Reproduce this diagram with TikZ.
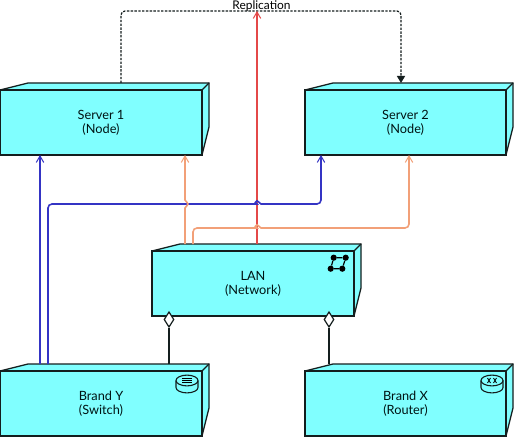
\documentclass[tikz,border=0pt]{standalone}
\usepackage{fontspec}
\setmainfont{Lato}
\usetikzlibrary{arrows.meta,shapes.geometric}
\definecolor{nodecyan}{HTML}{80FFFF}
\definecolor{conblue}{HTML}{3434C4}
\definecolor{conorange}{HTML}{F2A078}
\definecolor{conred}{HTML}{E44848}
\definecolor{outline}{HTML}{141E1E}
\tikzset{
  hull/.style={inner sep=0pt,outer sep=0pt,anchor=north west,minimum width=#1,minimum height=72bp},
  face/.style={draw=outline,line width=1.25bp,line join=miter},
  lbl/.style={align=center,font=\fontsize{12.8}{14.3}\selectfont,text=black!85!teal},
  conn/.style={line width=1.6bp,rounded corners=4bp},
  opentip/.style={-{Straight Barb[length=6.5bp,width=7.5bp,line width=1bp]}},
  diam/.style={diamond,draw=outline,fill=white,line width=1.2bp,inner sep=0pt,aspect=0.66,minimum width=10bp,minimum height=15.5bp},
  iconline/.style={draw=outline,line width=1.1bp,fill=none},
  netdot/.style={circle,fill=black,inner sep=0pt,minimum size=6.2bp}
}
% name, left x, top (back) y, width of front
\newcommand{\solidbox}[5]{%
  \node[hull=#4bp+7bp] (#1) at (#2,#3) {};
  \fill[nodecyan] (#2,#3+7) -- (#2+28,#3) -- (#2+#4+7,#3) -- (#2+#4+7,#3+44) -- (#2+#4,#3+72) -- (#2,#3+72) -- cycle;
  \draw[face] (#2,#3+7) -- (#2+28,#3) -- (#2+#4+7,#3) -- (#2+#4+7,#3+44) -- (#2+#4,#3+72);
  \draw[face] (#2,#3+7) rectangle (#2+#4,#3+72);
  \draw[face] (#2+#4,#3+7) -- (#2+#4+7,#3);
  \node[lbl] (#1t) at (#2+#4/2,#3+40) {#5};
}
\newcommand{\cylinder}[1]{%
  \draw[iconline] (#1,380.5) ellipse[x radius=11,y radius=5.4];
  \draw[iconline] (#1-11,380.5) -- (#1-11,387.5) arc[start angle=180,end angle=0,x radius=11,y radius=5.4] -- (#1+11,380.5);
}
\begin{document}
\begin{tikzpicture}[x=1bp,y=-1bp]
\useasboundingbox (0,0) rectangle (514,437);
\fill[white] (0,0) rectangle (514,437);

\solidbox{s1}{0}{83}{202}{Server 1\\(Node)}
\solidbox{s2}{305}{83}{201}{Server 2\\(Node)}
\solidbox{lan}{152}{244}{202}{LAN\\(Network)}
\solidbox{by}{0}{364}{202}{Brand Y\\(Switch)}
\solidbox{bx}{305}{364}{201}{Brand X\\(Router)}

% columns used by the connectors
\coordinate (cA) at (40,0);
\coordinate (cB) at (48,0);
\coordinate (cC) at (121,0);
\coordinate (cD) at (185,0);
\coordinate (cE) at (193,0);
\coordinate (cF) at (257,0);
\coordinate (cG) at (321,0);
\coordinate (cH) at (401,0);
\coordinate (cI) at (409,0);
\coordinate (rowTop) at (0,11);
\coordinate (rowBlue) at (0,204);
\coordinate (rowOrange) at (0,228);
\coordinate (dj1) at (169,319.5);
\coordinate (dj2) at (329,319.5);

% replication
\coordinate (repStart) at (s1.north -| cC);
\coordinate (repEnd) at (s2.north -| cH);
\draw[line width=1.25bp,draw=outline,rounded corners=4bp,dash pattern=on 2.4bp off 1.4bp,-{Triangle[length=7bp,width=8bp]}]
  (repStart) -- (rowTop -| cC) -- (rowTop -| cH) -- (repEnd);
\node[font=\fontsize{12}{14}\selectfont,text=black,inner sep=0pt] (rep) at (261.5,6) {Replication};

% red
\draw[line width=1.25bp,color=conred,opentip] (lan.north -| cF) -- (rowTop -| cF);

% blue
\draw[line width=1.25bp,color=conblue,opentip] (by.north -| cA) -- (s1.south -| cA);
\draw[conn,color=conblue,opentip] (by.north -| cB) -- (rowBlue -| cB) -- (253,204)
  [sharp corners] .. controls (255,204) and (254.6,200.8) .. (257,200.8) .. controls (259.4,200.8) and (259,204) .. (261,204)
  [rounded corners=4bp] -- (rowBlue -| cG) -- (s2.south -| cG);

% orange
\draw[line width=1.6bp,color=conorange,opentip] (lan.north -| cD) -- (185,208)
  .. controls (185,206) and (188,206.5) .. (188,204) .. controls (188,201.5) and (185,202) .. (185,200)
  -- (s1.south -| cD);
\draw[conn,color=conorange,opentip] (lan.north -| cE) -- (rowOrange -| cE) -- (253,228)
  [sharp corners] .. controls (255,228) and (254.6,224.8) .. (257,224.8) .. controls (259.4,224.8) and (259,228) .. (261,228)
  [rounded corners=4bp] -- (rowOrange -| cI) -- (s1.south -| cI);

% aggregations
\node[diam] (d1) at (dj1) {};
\node[diam] (d2) at (dj2) {};
\draw[line width=1.25bp,color=outline] (by.north -| d1) -- (d1.south);
\draw[line width=1.25bp,color=outline] (bx.north -| d2) -- (d2.south);

% network icon
\node[netdot] (n1) at (333.7,257.7) {};
\node[netdot] (n2) at (345.7,257.7) {};
\node[netdot] (n3) at (330.7,268.7) {};
\node[netdot] (n4) at (342.3,268.7) {};
\draw[line width=1.2bp] (n1) -- (n2) -- (n4) -- (n3) -- (n1);

% device icons
\cylinder{187}
\cylinder{492}
\draw[line width=0.7bp] (182,378.3) -- (192,378.3) (182,380.5) -- (192,380.5) (182,382.7) -- (192,382.7);
\draw[line width=0.8bp] (487.5,378) -- (490.5,383) (490.5,378) -- (487.5,383) (493.5,378) -- (496.5,383) (496.5,378) -- (493.5,383);
\end{tikzpicture}
\end{document}
